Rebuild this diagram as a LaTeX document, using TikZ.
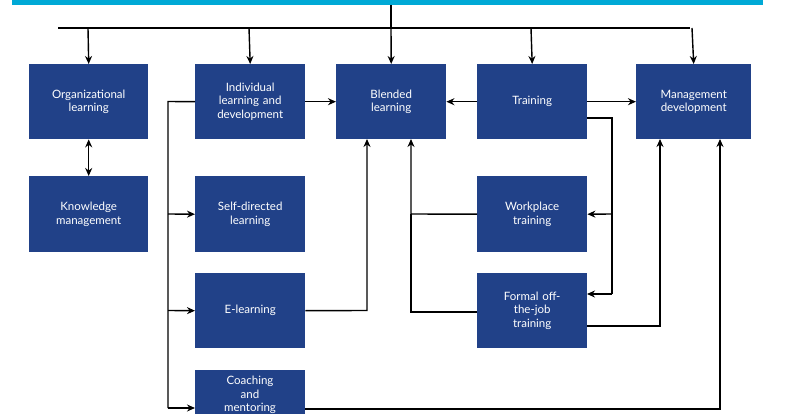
\documentclass[tikz,border=0pt]{standalone}
\usepackage{fontspec}
\setmainfont{Lato}
\usetikzlibrary{arrows.meta}
\definecolor{boxblue}{RGB}{33,65,136}
\definecolor{barcyan}{RGB}{0,169,214}
\tikzset{
  bx/.style={fill=boxblue,text=white,inner sep=0pt,align=center,font=\fontsize{11.5}{13.5}\selectfont},
  ln/.style={line width=1.4pt,black},
  ar/.style={ln,-{Stealth[length=8pt,width=7pt]}},
  dar/.style={ln,{Stealth[length=8pt,width=7pt]}-{Stealth[length=8pt,width=7pt]}}
}
\newcommand{\bxat}[6]{\node[bx,minimum width=#3pt,minimum height=#4pt,anchor=north west,text width=#3pt] (#5) at (#1,#2) {#6};}
\begin{document}
\begin{tikzpicture}[x=1pt,y=-1pt]
\useasboundingbox (0,0) rectangle (790,414);
\fill[barcyan] (12,0) rectangle (763,5);
\clip (0,0) rectangle (790,414);
\bxat{29}{64}{119}{75}{org}{Organizational\\learning}
\bxat{195}{64}{110}{75}{ind}{Individual\\learning and\\development}
\bxat{336}{64}{110}{75}{bl}{Blended\\learning}
\bxat{477}{64}{110}{75}{tr}{Training}
\bxat{636}{64}{115}{75}{md}{Management\\development}
\bxat{29}{176}{119}{76}{km}{Knowledge\\management}
\bxat{195}{176}{110}{76}{sd}{Self-directed\\learning}
\bxat{477}{176}{110}{76}{wp}{Workplace\\training}
\bxat{195}{273}{110}{75}{el}{E-learning}
\bxat{477}{273}{110}{75}{fo}{Formal off-\\the-job\\training}
\node[bx,minimum width=110pt,minimum height=80pt,anchor=north west,text width=110pt,text depth=0pt] (co) at (195,370) {};
\node[bx,anchor=north,text width=110pt] (cotext) at (250,376) {Coaching\\and\\mentoring};
% top bus
\coordinate (top) at (391,5);
\coordinate (tj) at (391,28);
\draw[ln] (top) -- (tj);
\draw[ln] (58,28) -- (690,28);
\draw[ar] (88,28) -- (org.north);
\draw[ar] (249,28) -- (ind.north);
\draw[ar] (tj) -- (bl.north);
\draw[ar] (531,28) -- (tr.north);
\draw[ar] (692,28) -- (md.north);
\draw[ln] (88,28) -- (88,28);
% org-km
\draw[dar] (org.south) -- (km.north);
% left bus
\draw[ln] (ind.west) -- (168,101.5) -- (168,408);
\draw[ar] (168,214) -- (sd.west);
\draw[ar] (168,310.5) -- (el.west);
\draw[ar] (168,408) -- (195,408);
% row arrows
\draw[ar] (ind.east) -- (bl.west);
\draw[ar] (tr.west) -- (bl.east);
\draw[ar] (tr.east) -- (md.west);
% training right side
\draw[ln] (587,118) -- (612,118) -- (612,294);
\draw[ar] (612,214) -- (wp.east);
\draw[ar] (612,294) -- (587,294);
% e-learning -> blended
\draw[ar] (el.east) -- (367,310.5) -- (367,139);
% workplace, formal -> blended
\draw[ar] (wp.west) -- (411,214) -- (411,139);
\draw[ln] (477,312) -- (411,312) -- (411,214);
% formal -> management
\draw[ar] (587,326) -- (660,326) -- (660,139);
% coaching -> management
\draw[ar] (305,409) -- (720,409) -- (720,139);
\end{tikzpicture}
\end{document}
